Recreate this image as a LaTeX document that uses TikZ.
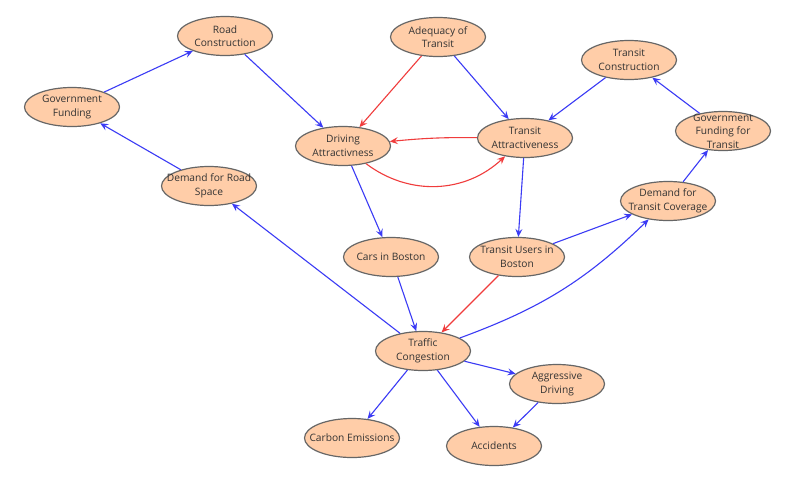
\documentclass[tikz,border=0pt]{standalone}
\usepackage{fontspec}
\setmainfont{Open Sans}
\usetikzlibrary{shapes.geometric,arrows.meta}
\definecolor{peach}{HTML}{FFCDA8}
\definecolor{rim}{HTML}{666666}
\definecolor{ink}{HTML}{333333}
\definecolor{blu}{HTML}{3B3BF5}
\definecolor{rd}{HTML}{F03C3C}
\tikzset{
  var/.style={ellipse,draw=rim,fill=peach,line width=1.2pt,minimum width=95pt,minimum height=39pt,inner sep=0pt},
  txt/.style={font=\fontsize{10.2}{13.5}\selectfont,text=ink,align=center,inner sep=0pt},
  plink/.style={draw=blu,line width=1.1pt,-{Stealth[length=8pt,width=7pt,inset=3pt]}},
  nlink/.style={draw=rd,line width=1.1pt,-{Stealth[length=8pt,width=7pt,inset=3pt]}}
}
\begin{document}
\begin{tikzpicture}[x=1pt,y=-1pt]
\useasboundingbox (0,0) rectangle (800,485);
\fill[white] (0,0) rectangle (800,485);
\node[var,label={[txt]center:Road\\Construction}] (rc) at (225,36) {};
\node[var,label={[txt]center:Government\\Funding}] (gf) at (72,107) {};
\node[var,label={[txt]center:Demand for Road\\Space}] (drs) at (209,186) {};
\node[var,label={[txt]center:Adequacy of\\Transit}] (at) at (438,37) {};
\node[var,label={[txt]center:Transit\\Construction}] (tc) at (629,60) {};
\node[var,label={[txt]center:Government\\Funding for\\Transit}] (gft) at (723,131) {};
\node[var,label={[txt]center:Driving\\Attractivness}] (da) at (343,146) {};
\node[var,label={[txt]center:Transit\\Attractiveness}] (ta) at (525,138) {};
\node[var,label={[txt]center:Demand for\\Transit Coverage}] (dtc) at (668,201) {};
\node[var,label={[txt]center:Cars in Boston}] (cb) at (391,257) {};
\node[var,label={[txt]center:Transit Users in\\Boston}] (tub) at (517,257) {};
\node[var,label={[txt]center:Traffic\\Congestion}] (tcg) at (423,351) {};
\node[var,label={[txt]center:Aggressive\\Driving}] (ad) at (557,384) {};
\node[var,label={[txt]center:Carbon Emissions}] (ce) at (352,438) {};
\node[var,label={[txt]center:Accidents}] (acc) at (494,446) {};

\draw[plink] (gf) -- (rc);
\draw[plink] (drs) -- (gf);
\draw[plink] (rc) -- (da);
\draw[nlink] (at) -- (da);
\draw[plink] (at) -- (ta);
\draw[plink] (tc) -- (ta);
\draw[plink] (gft) -- (tc);
\draw[plink] (dtc) -- (gft);
\draw[nlink] (ta) to[bend right=3] (da);
\draw[nlink] (da) to[bend right=40] (ta);
\draw[plink] (da) -- (cb);
\draw[plink] (ta) -- (tub);
\draw[plink] (tub) -- (dtc);
\draw[plink] (cb) -- (tcg);
\draw[nlink] (tub) -- (tcg);
\draw[plink] (tcg) -- (drs);
\draw[plink] (tcg) to[bend right=12] (dtc);
\draw[plink] (tcg) -- (ad);
\draw[plink] (tcg) -- (ce);
\draw[plink] (tcg) -- (acc);
\draw[plink] (ad) -- (acc);
\end{tikzpicture}
\end{document}
